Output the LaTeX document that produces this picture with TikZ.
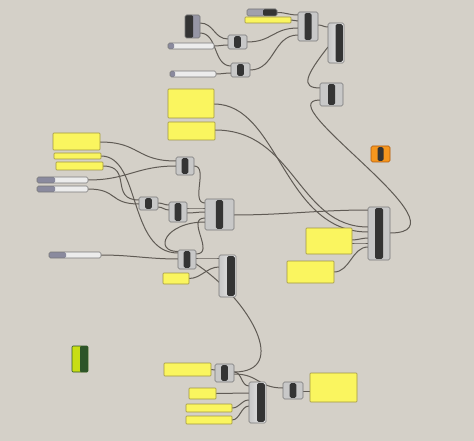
\documentclass[tikz,border=0pt]{standalone}
\usetikzlibrary{backgrounds}
\definecolor{bg}{RGB}{212,208,200}
\definecolor{wirec}{RGB}{96,91,85}
\definecolor{compb}{RGB}{120,120,120}
\definecolor{compf}{RGB}{236,236,236}
\definecolor{compe}{RGB}{200,200,200}
\definecolor{barc}{RGB}{52,52,52}
\definecolor{panelf}{RGB}{250,245,95}
\definecolor{paneld}{RGB}{160,150,65}
\definecolor{thumbc}{RGB}{138,138,158}
\definecolor{orangef}{RGB}{245,150,30}
\definecolor{oranged}{RGB}{175,90,15}
\definecolor{greenl}{RGB}{200,222,20}
\definecolor{greend}{RGB}{45,85,40}
\begin{document}
\begin{tikzpicture}[x=1pt,y=-1pt,
  every node/.style={inner sep=0pt, outer sep=0pt, anchor=north west},
  wire/.style={draw=wirec, line width=1pt},
  comp/.style={draw=compb, left color=compe, middle color=compf, right color=compe, line width=0.6pt, rounded corners=1.5pt,
    path picture={\fill[barc] ([xshift=-#1,yshift=-1.2pt]path picture bounding box.north) rectangle ([xshift=#1,yshift=1.2pt]path picture bounding box.south);}},
  comp/.default=3.4pt,
  listc/.style={draw=compb, left color=compe, right color=compf, line width=0.6pt, rounded corners=1.5pt,
    path picture={\fill[barc] ([xshift=-0.5pt,yshift=-1.2pt]path picture bounding box.north) rectangle ([xshift=-1.2pt,yshift=1.2pt]path picture bounding box.south east);}},
  acomp/.style={draw=compb, fill={rgb,255:red,150;green,150;blue,165}, line width=0.6pt, rounded corners=1.5pt,
    path picture={\fill[barc] (path picture bounding box.north west) rectangle ([xshift=8pt]path picture bounding box.south west);}},
  slider/.style={draw=compb, fill={rgb,255:red,236;green,236;blue,236}, line width=0.6pt, rounded corners=1.5pt,
    path picture={\fill[thumbc] (path picture bounding box.north west) rectangle ([xshift=#1]path picture bounding box.south west);}},
  slider/.default=6pt,
  dslider/.style={draw=compb, fill={rgb,255:red,160;green,160;blue,172}, line width=0.6pt, rounded corners=1.5pt,
    path picture={\fill[barc] ([xshift=-14pt]path picture bounding box.north east) rectangle (path picture bounding box.south east);}},
  panel/.style={draw=paneld, fill=panelf, line width=0.6pt, rounded corners=0.8pt},
  ocomp/.style={draw=oranged, fill=orangef, line width=0.6pt, rounded corners=1.5pt,
    path picture={\fill[barc] ([xshift=-3pt,yshift=-1.2pt]path picture bounding box.north) rectangle ([xshift=3pt,yshift=1.2pt]path picture bounding box.south);}},
  gcomp/.style={draw=greend, fill=greenl, line width=0.6pt, rounded corners=1pt,
    path picture={\fill[greend] (path picture bounding box.north) rectangle (path picture bounding box.south east);}}
]
\useasboundingbox (0,0) rectangle (474,441);
% ---- top cluster
\node[acomp, minimum width=15pt, minimum height=23pt] (A) at (185,15) {};
\node[slider=6pt, minimum width=46pt, minimum height=6pt] (S1) at (168,43) {};
\node[slider=5pt, minimum width=46pt, minimum height=6pt] (S2) at (170,71) {};
\node[comp, minimum width=19pt, minimum height=14pt] (B) at (228,35) {};
\node[comp, minimum width=19pt, minimum height=14pt] (C) at (231,63) {};
\node[dslider, minimum width=30pt, minimum height=7pt] (DS) at (247,9) {};
\node[panel, minimum width=46pt, minimum height=6pt] (PT) at (245,17) {};
\node[comp=3.5pt, minimum width=20pt, minimum height=29pt] (D) at (298,12) {};
\node[listc, minimum width=16pt, minimum height=40pt] (E) at (328,23) {};
\node[comp=3.5pt, minimum width=23pt, minimum height=23pt] (F) at (320,83) {};
% ---- middle
\node[panel, minimum width=46pt, minimum height=29pt] (P1) at (168,89) {};
\node[panel, minimum width=47pt, minimum height=18pt] (P2) at (168,122) {};
\node[ocomp, minimum width=19pt, minimum height=16pt] (OR) at (371,146) {};
% ---- left cluster
\node[panel, minimum width=47pt, minimum height=17pt] (P3) at (53,133) {};
\node[panel, minimum width=47pt, minimum height=6pt] (P4) at (54,153) {};
\node[panel, minimum width=47pt, minimum height=8pt] (P5) at (56,162) {};
\node[slider=18pt, minimum width=51pt, minimum height=6pt] (S3) at (37,177) {};
\node[slider=18pt, minimum width=51pt, minimum height=6pt] (S4) at (37,186) {};
\node[comp, minimum width=18pt, minimum height=18pt] (G) at (176,157) {};
\node[comp, minimum width=19pt, minimum height=13pt] (H) at (139,197) {};
\node[comp, minimum width=18pt, minimum height=20pt] (I) at (169,202) {};
\node[comp=3.6pt, minimum width=29pt, minimum height=31pt] (J) at (205,199) {};
\node[comp, minimum width=18pt, minimum height=19pt] (K) at (178,250) {};
\node[panel, minimum width=26pt, minimum height=11pt] (P6) at (163,273) {};
\node[listc, minimum width=17pt, minimum height=42pt] (L) at (219,255) {};
\node[slider=17pt, minimum width=52pt, minimum height=6pt] (S5) at (49,252) {};
\node[gcomp, minimum width=16pt, minimum height=26pt] (GR) at (72,346) {};
% ---- right cluster
\node[comp=4pt, minimum width=22pt, minimum height=53pt] (M) at (368,207) {};
\node[panel, minimum width=46pt, minimum height=26pt] (P7) at (306,228) {};
\node[panel, minimum width=47pt, minimum height=22pt] (P8) at (287,261) {};
% ---- bottom cluster
\node[panel, minimum width=47pt, minimum height=13pt] (P9) at (164,363) {};
\node[comp, minimum width=19pt, minimum height=18pt] (N) at (215,364) {};
\node[listc, minimum width=17pt, minimum height=41pt] (O) at (249,382) {};
\node[panel, minimum width=27pt, minimum height=11pt] (P10) at (189,388) {};
\node[panel, minimum width=46pt, minimum height=8pt] (P11) at (186,404) {};
\node[panel, minimum width=46pt, minimum height=8pt] (P12) at (186,416) {};
\node[comp, minimum width=20pt, minimum height=17pt] (Q) at (283,382) {};
\node[panel, minimum width=47pt, minimum height=29pt] (P13) at (310,373) {};

\begin{pgfonlayer}{background}
\fill[bg] (0,0) rectangle (474,441);
% top
\draw[wire] ([yshift=-8pt]A.north east) .. controls +(14,0) and +(-14,0) .. ([yshift=-4pt]B.north west);
\draw[wire] ([yshift=-18pt]A.north east) .. controls +(18,0) and +(-18,0) .. ([yshift=-3pt]C.north west);
\draw[wire] (S1.east) .. controls +(6,0) and +(-6,0) .. ([yshift=-10pt]B.north west);
\draw[wire] (S2.east) .. controls +(6,0) and +(-6,0) .. ([yshift=-10pt]C.north west);
\draw[wire] ([yshift=-7pt]B.north east) .. controls +(25,0) and +(-25,0) .. ([yshift=-16pt]D.north west);
\draw[wire] ([yshift=-7pt]C.north east) .. controls +(25,0) and +(-25,0) .. ([yshift=-23pt]D.north west);
\draw[wire] (DS.east) .. controls +(10,0) and +(-10,0) .. ([yshift=-3pt]D.north west);
\draw[wire] (PT.east) .. controls +(4,0) and +(-4,0) .. ([yshift=-9pt]D.north west);
\draw[wire] ([yshift=-13pt]D.north east) .. controls +(5,0) and +(-5,0) .. ([yshift=-4pt]E.north west);
\draw[wire] ([yshift=-24pt]E.north west) .. controls +(-22,28) and +(-20,0) .. ([yshift=-5pt]F.north west);
\draw[wire] ([yshift=-26pt]M.north east) .. controls +(85,0) and +(-55,0) .. ([yshift=-17pt]F.north west);
% middle
\draw[wire] ([yshift=-15pt]P1.north east) .. controls +(65,0) and +(-85,0) .. ([yshift=-25pt]M.north west);
\draw[wire] ([yshift=-8pt]P2.north east) .. controls +(80,0) and +(-70,0) .. ([yshift=-20pt]M.north west);
\draw[wire] ([yshift=-16pt]J.north east) .. controls +(50,0) and +(-50,0) .. ([yshift=-3pt]M.north west);
\draw[wire] ([yshift=-12pt]P7.north east) .. controls +(6,0) and +(-6,0) .. ([yshift=-31pt]M.north west);
\draw[wire] ([yshift=-15pt]P7.north east) .. controls +(6,0) and +(-6,0) .. ([yshift=-36pt]M.north west);
\draw[wire] ([yshift=-11pt]P8.north east) .. controls +(16,0) and +(-16,0) .. ([yshift=-40pt]M.north west);
% left
\draw[wire] ([yshift=-9pt]P3.north east) .. controls +(40,0) and +(-40,0) .. ([yshift=-4pt]G.north west);
\draw[wire] (S3.east) .. controls +(40,0) and +(-40,0) .. ([yshift=-9pt]G.north west);
\draw[wire] (P4.east) .. controls +(40,0) and +(-50,0) .. ([yshift=-3pt]K.north west);
\draw[wire] (P5.east) .. controls +(30,0) and +(-30,0) .. ([yshift=-3pt]H.north west);
\draw[wire] (S4.east) .. controls +(30,0) and +(-30,0) .. ([yshift=-7pt]H.north west);
\draw[wire] ([yshift=-6pt]H.north east) .. controls +(5,0) and +(-5,0) .. ([yshift=-3pt]I.north west);
\draw[wire] ([yshift=-10pt]H.north east) .. controls +(5,0) and +(-5,0) .. ([yshift=-8pt]I.north west);
\draw[wire] ([yshift=-9pt]G.north east) .. controls +(15,0) and +(-15,0) .. ([yshift=-4pt]J.north west);
\draw[wire] ([yshift=-6pt]I.north east) .. controls +(8,0) and +(-8,0) .. ([yshift=-9pt]J.north west);
\draw[wire] ([yshift=-11pt]I.north east) .. controls +(8,0) and +(-8,0) .. ([yshift=-13pt]J.north west);
\draw[wire] ([yshift=-4pt]K.north east) .. controls +(20,0) and +(-20,0) .. ([yshift=-19pt]J.north west);
\draw[wire] ([yshift=-23pt]J.north west) .. controls +(-40,0) and +(-25,0) .. ([yshift=-1.5pt]K.north west);
\draw[wire] (S5.east) .. controls +(30,0) and +(-30,0) .. ([yshift=-9pt]K.north west);
\draw[wire] ([yshift=-8pt]K.north east) .. controls +(10,0) and +(-10,0) .. ([yshift=-3pt]L.north west);
\draw[wire] (P6.east) .. controls +(12,0) and +(-12,0) .. ([yshift=-12pt]L.north west);
\draw[wire] ([yshift=-14pt]K.north east) .. controls (250,300) and (290,372) .. ([yshift=-8pt]N.north east);
% bottom
\draw[wire] (P9.east) -- ([yshift=-6pt]N.north west);
\draw[wire] ([yshift=-8pt]N.north east) .. controls +(8,0) and +(-8,0) .. ([yshift=-4pt]O.north west);
\draw[wire] ([yshift=-10pt]N.north east) .. controls +(25,0) and +(-25,0) .. ([yshift=-6pt]Q.north west);
\draw[wire] (P10.east) .. controls +(12,0) and +(-12,0) .. ([yshift=-11pt]O.north west);
\draw[wire] (P11.east) .. controls +(8,0) and +(-8,0) .. ([yshift=-18pt]O.north west);
\draw[wire] (P12.east) .. controls +(8,0) and +(-8,0) .. ([yshift=-24pt]O.north west);
\draw[wire] ([yshift=-9pt]Q.north east) -- ([yshift=-18pt]P13.north west);
\end{pgfonlayer}
\end{tikzpicture}
\end{document}
